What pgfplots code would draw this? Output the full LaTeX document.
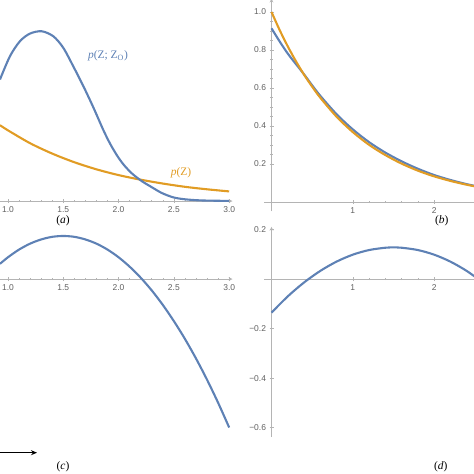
\documentclass[border=0pt]{standalone}
\usepackage{pgfplots}
\pgfplotsset{compat=1.18}
\usetikzlibrary{arrows.meta}
\usepackage{fontspec}
\setmainfont{Liberation Serif}
\setsansfont{Liberation Sans}

\definecolor{mblue}{HTML}{5E81B5}
\definecolor{morange}{HTML}{E19C24}
\definecolor{axgray}{HTML}{B4B4B4}
\definecolor{lblgray}{HTML}{606060}

\pgfplotsset{
  mma/.style={
    scale only axis,
    axis line style={axgray, line width=0.7bp, -},
    tick style={axgray, line width=0.6bp},
    tick align=inside,
    major tick length=4bp, minor tick length=2.2bp,
    minor x tick num=4,
    ticklabel style={font=\sffamily\fontsize{8.5}{10}\selectfont, text=lblgray},
    /pgf/number format/assume math mode=true,
  },
  curve/.style={line width=2.1bp, smooth, no markers},
}

\begin{document}
\begin{tikzpicture}
\useasboundingbox (0,0) rectangle (474bp,474bp);

% (a)
\begin{axis}[mma, at={(0bp,265.3bp)}, anchor=south west,
  width=232.5bp, height=209.3bp,
  xmin=0.928, xmax=3.03, ymin=-0.04, ymax=1.05,
  axis x line=middle, axis y line=none,
  xtick={1,1.5,2,2.5,3},
  xticklabel style={/pgf/number format/.cd, fixed, fixed zerofill, precision=1}]
\addplot[curve, morange] coordinates {
  (0.928,0.395) (1.0,0.368) (1.2,0.301) (1.4,0.247) (1.6,0.202)
  (1.8,0.165) (2.0,0.135) (2.2,0.111) (2.4,0.091) (2.6,0.074)
  (2.8,0.061) (3.0,0.050)};
\addplot[curve, mblue] coordinates {
  (0.928,0.633) (1.018,0.754) (1.108,0.832) (1.199,0.872) (1.305,0.884)
  (1.41,0.858) (1.50,0.798) (1.59,0.702) (1.68,0.60) (1.77,0.49)
  (1.862,0.37) (1.922,0.30) (1.983,0.24) (2.042,0.192) (2.118,0.145)
  (2.209,0.104) (2.30,0.072) (2.39,0.042) (2.495,0.019) (2.6,0.009)
  (2.75,0.003) (3.0,0.0005)};
\end{axis}

% (b)
\begin{axis}[mma, at={(264.2bp,262.5bp)}, anchor=south west,
  width=218.7bp, height=212.8bp,
  xmin=-0.09, xmax=2.6, ymin=-0.05, ymax=1.07,
  axis lines=middle, minor y tick num=3,
  xtick={1,2}, ytick={0.2,0.4,0.6,0.8,1.0},
  yticklabel style={/pgf/number format/.cd, fixed, fixed zerofill, precision=1}]
\addplot[curve, mblue] coordinates {
  (0,0.914) (0.1,0.845) (0.2,0.781) (0.3,0.726) (0.4,0.672) (0.5,0.614)
  (0.6,0.559) (0.8,0.462) (1.0,0.382) (1.2,0.315) (1.4,0.260) (1.6,0.214)
  (1.8,0.175) (2.0,0.142) (2.2,0.116) (2.4,0.094) (2.6,0.076)};
\addplot[curve, morange] coordinates {
  (0,1.0) (0.1,0.905) (0.2,0.819) (0.3,0.741) (0.4,0.670) (0.5,0.607)
  (0.6,0.549) (0.8,0.449) (1.0,0.368) (1.2,0.301) (1.4,0.247) (1.6,0.202)
  (1.8,0.165) (2.0,0.135) (2.2,0.111) (2.4,0.091) (2.6,0.074)};
\end{axis}

% (c)
\begin{axis}[mma, at={(0bp,34.1bp)}, anchor=south west,
  width=232.5bp, height=215.3bp,
  xmin=0.928, xmax=3.03, ymin=-0.65, ymax=0.22,
  axis x line=middle, axis y line=none,
  xtick={1,1.5,2,2.5,3},
  xticklabel style={/pgf/number format/.cd, fixed, fixed zerofill, precision=1}]
\addplot[curve, mblue] coordinates {
  (0.928,0.0615) (1.0,0.088) (1.1,0.119) (1.2,0.143) (1.3,0.160) (1.4,0.1706)
  (1.5,0.174) (1.6,0.1706) (1.7,0.160) (1.8,0.143) (1.9,0.119) (2.0,0.088)
  (2.1,0.050) (2.2,0.0054) (2.3,-0.046) (2.4,-0.1046) (2.5,-0.170)
  (2.6,-0.242) (2.7,-0.321) (2.8,-0.407) (2.9,-0.500) (3.0,-0.600)};
\end{axis}

% (d)
\begin{axis}[mma, at={(264.2bp,37bp)}, anchor=south west,
  width=218.7bp, height=210.1bp,
  xmin=-0.09, xmax=2.6, ymin=-0.638, ymax=0.211,
  axis lines=middle, minor y tick num=3,
  xtick={1,2}, ytick={-0.6,-0.4,-0.2,0.2},
  yticklabels={−0.6,−0.4,−0.2,0.2}]
\addplot[curve, mblue] coordinates {
  (0,-0.1353) (0.2,-0.0697) (0.4,-0.0136) (0.6,0.0332) (0.8,0.0707)
  (1.0,0.0988) (1.2,0.1175) (1.4,0.1268) (1.5,0.128) (1.6,0.1268)
  (1.8,0.1175) (2.0,0.0988) (2.2,0.0707) (2.4,0.0332) (2.6,-0.0136)};
\end{axis}

\node[font=\fontsize{11.5}{13}\selectfont, text=mblue] at (108bp,418bp) {\textit{p}(Z; Z\textsubscript{O})};
\node[font=\fontsize{11.5}{13}\selectfont, text=morange] at (181bp,301bp) {\textit{p}(Z)};

\node[font=\fontsize{11.5}{13}\selectfont] at (63bp,253bp) {(\textit{a})};
\node[font=\fontsize{11.5}{13}\selectfont] at (441.7bp,253bp) {(\textit{b})};
\node[font=\fontsize{11.5}{13}\selectfont] at (63bp,7bp) {(\textit{c})};
\node[font=\fontsize{11.5}{13}\selectfont] at (440.7bp,7bp) {(\textit{d})};

\draw[-{Stealth[length=6bp,width=5bp]}, line width=1bp] (-2bp,21.3bp) -- (37bp,21.3bp);
\end{tikzpicture}
\end{document}
